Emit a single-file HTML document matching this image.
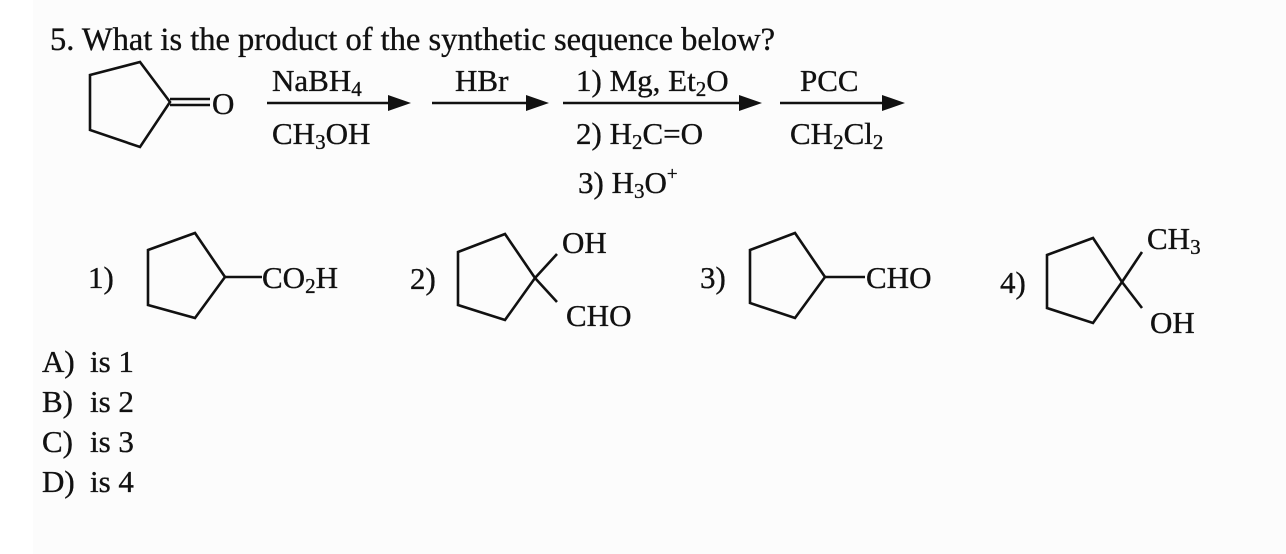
<!DOCTYPE html>
<html><head><meta charset="utf-8"><style>
html,body{margin:0;padding:0;background:#fff;}
svg{display:block;}
text{font-family:"Liberation Serif","Times New Roman",serif;fill:#111;stroke:#111;stroke-width:0.35;}
</style></head><body>
<svg width="1286" height="554" viewBox="0 0 1286 554" xmlns="http://www.w3.org/2000/svg">
<rect x="33" y="0" width="1253" height="554" fill="#fcfcfc"/>
<g font-size="32.5">
<text x="50" y="50">5.  What is the product of the synthetic sequence below?</text>
</g>
<g stroke="#111" stroke-width="2.6" fill="none" stroke-linejoin="miter">
<polygon points="90,75 140,62 170,102 140,147 90,130"/>
<line x1="170" y1="99" x2="210" y2="99"/><line x1="170" y1="105" x2="210" y2="105"/>
<line x1="267" y1="103" x2="395" y2="103"/>
<line x1="432" y1="103" x2="533" y2="103"/>
<line x1="563" y1="103" x2="746" y2="103"/>
<line x1="780" y1="103" x2="889" y2="103"/>
<polygon points="148,250 195,233 225,277 195,318 148,305"/>
<line x1="225" y1="277" x2="262" y2="277"/>
<polygon points="458,252 505,234 535,278 505,320 458,305"/>
<line x1="535" y1="278" x2="557" y2="254"/><line x1="535" y1="278" x2="557" y2="302"/>
<polygon points="750,250 795,233 825,277 795,318 750,303"/>
<line x1="825" y1="277" x2="865" y2="277"/>
<polygon points="1047,255 1093,238 1122,282 1093,323 1047,308"/>
<line x1="1122" y1="282" x2="1142" y2="252"/><line x1="1122" y1="282" x2="1142" y2="308"/>
</g>
<g fill="#111">
<polygon points="411,103 388,95 388,111"/>
<polygon points="549,103 526,95 526,111"/>
<polygon points="762,103 739,95 739,111"/>
<polygon points="905,103 882,95 882,111"/>
</g>
<g font-size="31">
<text x="212" y="114">O</text>
<text x="272" y="91">NaBH<tspan font-size="21" dy="5">4</tspan></text>
<text x="272" y="144">CH<tspan font-size="21" dy="5">3</tspan><tspan dy="-5">OH</tspan></text>
<text x="455" y="91">HBr</text>
<text x="576" y="91">1) Mg, Et<tspan font-size="21" dy="5">2</tspan><tspan dy="-5">O</tspan></text>
<text x="576" y="144">2) H<tspan font-size="21" dy="5">2</tspan><tspan dy="-5">C=O</tspan></text>
<text x="578" y="193">3) H<tspan font-size="21" dy="5">3</tspan><tspan dy="-5">O</tspan><tspan font-size="19" dy="-13">+</tspan></text>
<text x="800" y="91">PCC</text>
<text x="790" y="144">CH<tspan font-size="21" dy="5">2</tspan><tspan dy="-5">Cl</tspan><tspan font-size="21" dy="5">2</tspan></text>

<text x="88" y="288">1)</text>
<text x="262" y="288">CO<tspan font-size="21" dy="5">2</tspan><tspan dy="-5">H</tspan></text>
<text x="410" y="289">2)</text>
<text x="562" y="253">OH</text>
<text x="566" y="326">CHO</text>
<text x="700" y="288">3)</text>
<text x="866" y="288">CHO</text>
<text x="1000" y="293">4)</text>
<text x="1147" y="249">CH<tspan font-size="21" dy="5">3</tspan></text>
<text x="1150" y="333">OH</text>

<text x="42" y="372">A)</text><text x="90" y="372">is 1</text>
<text x="42" y="412">B)</text><text x="90" y="412">is 2</text>
<text x="42" y="452">C)</text><text x="90" y="452">is 3</text>
<text x="42" y="492">D)</text><text x="90" y="492">is 4</text>
</g>
</svg>
</body></html>
